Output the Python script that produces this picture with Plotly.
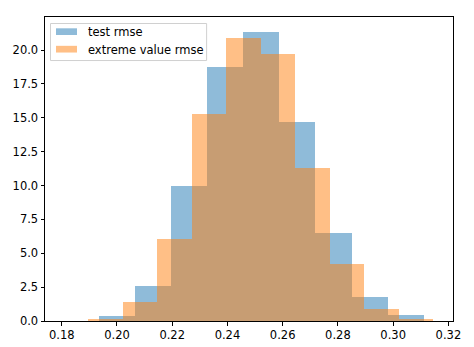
import numpy as np
import plotly.graph_objects as go

# ---- data ----
series_names = ["test rmse", "extreme value rmse"]
blue_bin_start = 0.1806
blue_bin_width = 0.01304
blue_density = [0.03, 0.37, 2.56, 9.97, 18.77, 21.33, 14.66, 6.50, 1.77, 0.42]
orange_bin_start = 0.1896
orange_bin_width = 0.0125
orange_density = [0.17, 1.40, 6.06, 15.27, 20.86, 19.68, 11.26, 4.19, 0.86, 0.15]
x_ticks = [0.18, 0.20, 0.22, 0.24, 0.26, 0.28, 0.30, 0.32]
y_ticks = [0.0, 2.5, 5.0, 7.5, 10.0, 12.5, 15.0, 17.5, 20.0]

blue_c = "rgba(31,119,180,0.5)"
orange_c = "rgba(255,127,14,0.5)"

def centers(start, width, n):
    return start + width * (np.arange(n) + 0.5)

fig = go.Figure()
fig.add_trace(go.Bar(
    x=centers(blue_bin_start, blue_bin_width, len(blue_density)),
    y=blue_density, width=blue_bin_width,
    marker=dict(color=blue_c, line=dict(width=0)),
    name=series_names[0], showlegend=False))
fig.add_trace(go.Bar(
    x=centers(orange_bin_start, orange_bin_width, len(orange_density)),
    y=orange_density, width=orange_bin_width,
    marker=dict(color=orange_c, line=dict(width=0)),
    name=series_names[1], showlegend=False))

W, H = 474, 347
L, R, T, B = 45, 21.3, 17, 26.3
pw, ph = W - L - R, H - T - B

def px(x):
    return (x - L) / pw

def py(y):
    return 1 - (y - T) / ph

font = dict(family="DejaVu Sans", size=11.5, color="#000000")

shapes = [
    # legend frame
    dict(type="rect", xref="paper", yref="paper",
         x0=px(50.5), x1=px(206.5), y0=py(60.5), y1=py(23.5),
         line=dict(color="#d0d0d0", width=1), fillcolor="rgba(255,255,255,0.8)",
         layer="above"),
    dict(type="rect", xref="paper", yref="paper",
         x0=px(56), x1=px(77), y0=py(35), y1=py(28.3),
         line=dict(width=0), fillcolor=blue_c, layer="above"),
    dict(type="rect", xref="paper", yref="paper",
         x0=px(56), x1=px(77), y0=py(52.5), y1=py(45.8),
         line=dict(width=0), fillcolor=orange_c, layer="above"),
]
annotations = [
    dict(text=series_names[0], xref="paper", yref="paper", x=px(85.5), y=py(32),
         xanchor="left", yanchor="middle", showarrow=False, font=font),
    dict(text=series_names[1], xref="paper", yref="paper", x=px(85.5), y=py(49.5),
         xanchor="left", yanchor="middle", showarrow=False, font=font),
]

fig.update_layout(
    width=W, height=H, autosize=False,
    margin=dict(l=L, r=R, t=T, b=B, pad=0, autoexpand=False),
    paper_bgcolor="white", plot_bgcolor="white",
    barmode="overlay", bargap=0,
    font=font,
    shapes=shapes, annotations=annotations,
    xaxis=dict(range=[0.17395, 0.32167], tickvals=x_ticks,
               ticktext=[f"{v:.2f}" for v in x_ticks],
               showgrid=False, zeroline=False, showline=True, mirror=True,
               linecolor="#000000", linewidth=1, ticks="outside", ticklen=3.5,
               tickcolor="#000000", tickfont=font, automargin=False),
    yaxis=dict(range=[0, 22.44], tickvals=y_ticks,
               ticktext=[f"{v:.1f}" for v in y_ticks],
               showgrid=False, zeroline=False, showline=True, mirror=True,
               linecolor="#000000", linewidth=1, ticks="outside", ticklen=3.5,
               tickcolor="#000000", tickfont=font, automargin=False),
)

fig.write_html("out.html")
